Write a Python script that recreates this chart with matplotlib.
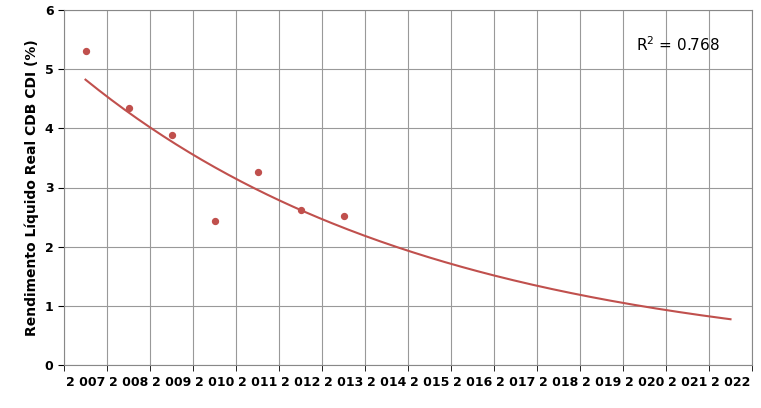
import numpy as np
import matplotlib.pyplot as plt

years = ["2 007", "2 008", "2 009", "2 010", "2 011", "2 012", "2 013", "2 014",
         "2 015", "2 016", "2 017", "2 018", "2 019", "2 020", "2 021", "2 022"]
obs_values = [5.30, 4.34, 3.89, 2.43, 3.26, 2.62, 2.52]

n_obs = len(obs_values)
x_obs = np.arange(n_obs) + 1
# exponential trendline like the spreadsheet
b, ln_a = np.polyfit(x_obs, np.log(obs_values), 1)
x_fit = np.linspace(1, len(years), 200)
y_fit = np.exp(ln_a) * np.exp(b * x_fit)

fig = plt.figure(figsize=(7.61, 4.08), dpi=100)
ax = fig.add_axes([64/761, 43/408, 688/761, 355/408])

col = "#C0504D"
ax.plot(x_fit, y_fit, color=col, linewidth=1.5)
ax.scatter(x_obs, obs_values, color=col, s=18, zorder=3)

ax.set_xlim(0.5, len(years) + 0.5)
ax.set_ylim(0, 6)
ax.set_xticks(np.arange(1, len(years) + 1))
ax.set_xticklabels(years, fontsize=9, fontweight="bold", family="Liberation Sans Narrow")
ax.set_xticks(np.arange(0.5, len(years) + 1), minor=True)
ax.set_yticks(range(0, 7))
ax.tick_params(axis="y", labelsize=9, length=4)
for t in ax.get_yticklabels():
    t.set_fontweight("bold")
ax.tick_params(axis="x", which="major", length=0, pad=8)
ax.tick_params(axis="x", which="minor", length=4)
ax.grid(True, which="minor", axis="x", color="#999999", linewidth=0.8)
ax.grid(True, which="major", axis="y", color="#999999", linewidth=0.8)
for s in ax.spines.values():
    s.set_color("#888888")
ax.set_ylabel("Rendimento Líquido Real CDB CDI (%)", fontsize=10, fontweight="bold")
ax.text(13.8, 5.3, "R$^2$ = 0.768", fontsize=11)

fig.savefig("out.png", dpi=100)
